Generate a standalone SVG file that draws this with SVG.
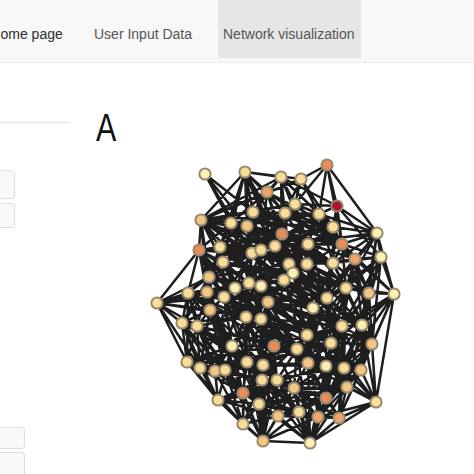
<svg xmlns="http://www.w3.org/2000/svg" width="474" height="474" viewBox="0 0 474 474">
<style>
.nav{font-family:"Liberation Sans",Arial,sans-serif;font-size:14px;fill:#555}
.box{fill:#f9f9f9;stroke:#dedede;stroke-width:1}
.e{fill:none;stroke:#050505;stroke-width:2.5;stroke-opacity:0.9;stroke-linecap:round}
circle{stroke:#96896f;stroke-width:2}
.y{fill:#f9dd98}.p{fill:#fcf0b2}.t{fill:#f5c681}.o{fill:#ec8a58}.lo{fill:#f1a468}.r{fill:#b1122f}
</style>
<rect width="474" height="474" fill="#fff"/>
<g id="navbar">
<rect x="0" y="0" width="474" height="62" fill="#f8f8f8"/>
<line x1="0" y1="62.5" x2="474" y2="62.5" stroke="#ececec"/>
<rect x="218" y="0" width="143" height="58" fill="#e6e6e6"/>
<text class="nav" x="0.5" y="38.5" style="fill:#2e2e2e">ome page</text>
<text class="nav" x="94" y="38.5">User Input Data</text>
<text class="nav" x="223" y="38.5">Network visualization</text>
</g>
<g id="sidebar">
<line x1="0" y1="122.5" x2="70" y2="122.5" stroke="#e8e8e8" stroke-width="1.5"/>
<rect class="box" x="-6" y="170.5" width="20.5" height="28" rx="2.5"/>
<rect class="box" x="-6" y="203.5" width="20.5" height="24" rx="2.5"/>
<rect class="box" x="-6" y="427.5" width="30.5" height="21" rx="2.5"/>
<rect class="box" x="-6" y="452.5" width="30.5" height="26" rx="2.5"/>
</g>
<text transform="translate(96,141) scale(0.8,1)" font-family="Liberation Sans,Arial,sans-serif" font-size="38" fill="#111">A</text>
<g id="edges">
<path class="e" d="M205 174L231 223M205 174L253 212M205 174L247 226M205 174L252 253
M245 172L201 220M245 172L231 223M245 172L247 226M245 172L253 212M245 172L267 192M245 172L281 177M245 172L220 247M245 172L252 253M245 172L261 250M245 172L275 246M245 172L285 213M245 172L223 262M245 172L301 179M245 172L282 234M245 172L289 264
M327 165L301 179M327 165L337 206M327 165L377 233M327 165L319 214M327 165L295 204M327 165L342 244
M281 177L267 192M281 177L337 206M281 177L295 204M281 177L285 213M281 177L253 212M281 177L201 220M281 177L308 244M281 177L282 234M281 177L319 214
M301 179L295 204M301 179L319 214M301 179L333 227M301 179L201 220M301 179L285 213
M267 192L253 212M267 192L231 223M267 192L285 213M267 192L201 220M267 192L247 226M267 192L282 234M267 192L199 250M267 192L308 244
M337 206L377 233M337 206L333 227M337 206L342 244M337 206L319 214M337 206L381 257M337 206L295 204M337 206L333 263
M295 204L253 212M295 204L319 214M295 204L285 213M295 204L201 220M295 204L308 244M295 204L252 253
M253 212L201 220M253 212L319 214M253 212L247 226M253 212L282 234M253 212L220 247M253 212L308 244
M285 213L319 214M285 213L247 226M285 213L333 227M285 213L275 246M285 213L261 250
M319 214L333 227M319 214L342 244M319 214L308 244M319 214L377 233M319 214L201 220M319 214L231 223
M201 220L199 250M201 220L220 247M201 220L231 223M201 220L308 244M201 220L209 277M201 220L223 262M201 220L307 264
M231 223L247 226M231 223L220 247M231 223L282 234M231 223L252 253M231 223L223 262M231 223L275 246
M247 226L282 234M247 226L252 253M247 226L261 250M247 226L308 244M247 226L289 264M247 226L209 277M247 226L293 273
M333 227L342 244M333 227L377 233M333 227L282 234M333 227L308 244M333 227L333 263
M377 233L342 244M377 233L381 257M377 233L355 259M377 233L394 294M377 233L333 263M377 233L346 288M377 233L369 293
M282 234L252 253M282 234L261 250M282 234L275 246M282 234L308 244M282 234L289 264M282 234L307 264M282 234L284 280M282 234L342 244
M199 250L220 247M199 250L223 262M199 250L209 277M199 250L188 293M199 250L207 292M199 250L157 303M199 250L252 253M199 250L308 244M199 250L275 246
M220 247L252 253M220 247L223 262M220 247L209 277M220 247L308 244M220 247L289 264
M252 253L261 250M252 253L223 262M252 253L209 277M252 253L249 283M252 253L289 264M252 253L284 280
M261 250L275 246M261 250L289 264M261 250L293 273M261 250L261 286M261 250L284 280
M275 246L308 244M275 246L289 264M275 246L307 264M275 246L284 280M275 246L313 308M275 246L333 263
M308 244L342 244M308 244L307 264M308 244L333 263M308 244L293 273M308 244L327 298
M342 244L381 257M342 244L333 263M342 244L355 259M342 244L307 264M342 244L346 288M342 244L369 293
M381 257L355 259M381 257L394 294M381 257L369 293M381 257L346 288M381 257L362 325
M223 262L209 277M223 262L207 292M223 262L224 297M223 262L235 288M223 262L249 283M223 262L293 273
M289 264L307 264M289 264L293 273M289 264L284 280M289 264L261 286M289 264L327 298M289 264L313 308
M307 264L333 263M307 264L293 273M307 264L313 308M307 264L327 298M307 264L346 288
M333 263L355 259M333 263L327 298M333 263L346 288M333 263L369 293
M355 259L346 288M355 259L369 293M355 259L394 294M355 259L362 325M355 259L342 326
M293 273L284 280M293 273L249 283M293 273L268 302M293 273L313 308M293 273L307 335
M209 277L188 293M209 277L207 292M209 277L224 297M209 277L235 288M209 277L157 303M209 277L182 323M209 277L268 302
M284 280L249 283M284 280L261 286M284 280L268 302M284 280L246 317M284 280L261 319M284 280L327 298
M188 293L207 292M188 293L157 303M188 293L182 323M188 293L197 326M188 293L210 310M188 293L187 362M188 293L249 283
M207 292L224 297M207 292L210 310M207 292L182 323M207 292L197 326M207 292L235 288M207 292L246 317
M224 297L235 288M224 297L210 310M224 297L246 317M224 297L232 346
M235 288L249 283M235 288L261 286M235 288L246 317M235 288L261 319
M249 283L261 286M249 283L268 302M249 283L246 317M249 283L261 319M249 283L274 346
M261 286L268 302M261 286L261 319M261 286L307 335M261 286L274 346
M268 302L313 308M268 302L246 317M268 302L261 319M268 302L274 346M268 302L297 349M268 302L307 335M268 302L342 326
M313 308L327 298M313 308L307 335M313 308L342 326M313 308L297 349M313 308L331 343
M327 298L346 288M327 298L342 326M327 298L331 343M327 298L307 335
M346 288L369 293M346 288L342 326M346 288L362 325M346 288L372 344
M369 293L394 294M369 293L362 325M369 293L372 344M369 293L342 326
M394 294L362 325M394 294L372 344M394 294L376 402M394 294L361 370
M157 303L182 323M157 303L187 362M157 303L197 326M157 303L210 310M157 303L224 297M157 303L235 288
M210 310L182 323M210 310L197 326M210 310L232 346M210 310L246 317M210 310L200 368
M246 317L261 319M246 317L232 346M246 317L274 346M246 317L247 362
M261 319L307 335M261 319L274 346M261 319L247 362M261 319L263 365M261 319L331 343
M182 323L197 326M182 323L187 362M182 323L200 368M182 323L215 371M182 323L232 346
M197 326L232 346M197 326L187 362M197 326L200 368M197 326L225 370M197 326L215 371
M342 326L362 325M342 326L331 343M342 326L372 344M342 326L308 363M342 326L326 366M342 326L344 368
M362 325L372 344M362 325L344 368M362 325L361 370
M307 335L274 346M307 335L297 349M307 335L308 363M307 335L331 343
M232 346L274 346M232 346L225 370M232 346L247 362M232 346L243 393M232 346L215 371M232 346L294 388
M274 346L297 349M274 346L247 362M274 346L263 365M274 346L262 380M274 346L277 380
M297 349L331 343M297 349L308 363M297 349L277 380M297 349L294 388
M331 343L372 344M331 343L308 363M331 343L326 366M331 343L344 368
M372 344L361 370M372 344L347 387M372 344L376 402M372 344L344 368
M187 362L200 368M187 362L215 371M187 362L218 400M187 362L243 393M187 362L247 362
M200 368L215 371M200 368L225 370M200 368L218 400M200 368L243 393M200 368L263 365
M215 371L225 370M215 371L218 400M215 371L243 393M215 371L243 424
M225 370L247 362M225 370L243 393M225 370L262 380
M247 362L263 365M247 362L262 380M247 362L243 393M247 362L259 404M247 362L326 366
M263 365L262 380M263 365L277 380M263 365L294 388M263 365L259 404
M308 363L326 366M308 363L294 388M308 363L326 398M308 363L277 380
M326 366L344 368M326 366L294 388M326 366L326 398M326 366L347 387
M344 368L361 370M344 368L347 387M344 368L326 398M344 368L339 418
M361 370L347 387M361 370L376 402M361 370L339 418
M262 380L277 380M262 380L243 393M262 380L259 404M262 380L278 416
M277 380L294 388M277 380L278 416M277 380L299 412
M294 388L326 398M294 388L299 412M294 388L278 416M294 388L318 417
M347 387L326 398M347 387L376 402M347 387L339 418M347 387L318 417
M243 393L218 400M243 393L259 404M243 393L243 424M243 393L263 441
M326 398L299 412M326 398L318 417M326 398L339 418M326 398L310 443
M218 400L243 424M218 400L263 441
M259 404L278 416M259 404L243 424M259 404L263 441
M376 402L339 418M376 402L318 417M376 402L310 443
M278 416L299 412M278 416L243 424M278 416L263 441M278 416L310 443
M299 412L318 417M299 412L263 441M299 412L310 443
M318 417L339 418M318 417L310 443M318 417L263 441
M339 418L310 443M243 424L263 441
M263 441L310 443M263 441L247 362M263 441L262 380M263 441L274 346M263 441L246 317M263 441L268 302M263 441L263 365M263 441L277 380
M310 443L308 363M310 443L297 349M310 443L326 366M310 443L347 387M310 443L331 343M310 443L294 388
M220 247L313 308M209 277L313 308M235 288L331 343M224 297L307 335M252 253L342 326M261 250L346 288M231 223L333 263M201 220L289 264M199 250L261 319M188 293L274 346M197 326L297 349M215 371L308 363M225 370L331 343M247 362L344 368M243 393L326 366M259 404L326 398M218 400L294 388M262 380L347 387M274 346L344 368M246 317L342 326M261 286L342 326M249 283L327 298M235 288L307 264M223 262L282 234M220 247L342 244M252 253L333 227M261 250L319 214M275 246L377 233M307 264L381 257M293 273L369 293M284 280L362 325M268 302L372 344M261 319L361 370M274 346L376 402M297 349L339 418M307 335L318 417M313 308L326 398M327 298L344 368M346 288L326 366M333 263L308 363M289 264L263 365M284 280L232 346M249 283L215 371M235 288L200 368M209 277L225 370M207 292L243 393M224 297L262 380M246 317L243 424M261 319L259 404M268 302L278 416
M201 220L261 286M201 220L252 253M201 220L284 280M231 223L307 264M231 223L261 286M231 223L293 273M247 226L333 263M247 226L307 264M253 212L289 264M253 212L333 227M267 192L289 264M267 192L333 227M285 213L342 244M285 213L252 253M285 213L223 262M295 204L275 246M295 204L342 244M319 214L289 264M319 214L355 259M308 244L261 286M308 244L249 283M308 244L355 259M333 227L307 264M333 227L289 264M282 234L220 247M282 234L333 263M275 246L223 262M275 246L249 283M261 250L307 264M261 250L209 277M252 253L307 264M252 253L224 297M220 247L261 286M220 247L235 288M199 250L235 288M199 250L224 297M223 262L268 302M223 262L261 319M209 277L249 283M209 277L246 317M188 293L224 297M188 293L235 288M207 292L261 286M207 292L268 302M224 297L261 319M224 297L274 346M235 288L284 280M235 288L297 349M249 283L307 335M249 283L289 264M261 286L313 308M261 286L327 298M268 302L327 298M268 302L331 343M284 280L307 335M284 280L342 326M293 273L327 298M293 273L342 326M289 264L346 288M289 264L333 263M307 264L369 293M307 264L342 326M333 263L313 308M333 263L362 325M355 259L327 298M355 259L331 343M342 244L313 308M342 244L394 294M346 288L307 335M346 288L313 308M327 298L362 325M327 298L372 344M313 308L362 325M313 308L308 363M307 335L342 326M307 335L326 366M297 349L342 326M297 349L326 366M274 346L307 335M274 346L331 343M261 319L297 349M261 319L232 346M246 317L297 349M246 317L225 370M210 310L247 362M210 310L261 319M197 326L246 317M197 326L247 362M182 323L225 370M182 323L246 317M187 362L225 370M187 362L232 346M200 368L247 362M200 368L232 346M215 371L262 380M215 371L259 404M225 370L263 365M225 370L259 404M247 362L277 380M247 362L294 388M263 365L308 363M263 365L326 366M262 380L294 388M262 380L299 412M277 380L308 363M277 380L326 398M294 388L344 368M294 388L339 418M308 363L344 368M308 363L347 387M326 366L361 370M326 366L318 417M344 368L376 402M344 368L318 417M331 343L361 370M331 343L326 398M342 326L347 387M342 326L361 370M362 325L347 387M362 325L326 366M372 344L326 398M372 344L339 418M243 393L278 416M243 393L277 380M259 404L299 412M259 404L294 388M278 416L318 417M278 416L326 398M299 412L339 418M299 412L326 366M218 400L259 404M218 400L262 380M243 424L278 416M243 424L277 380M263 441L299 412M263 441L294 388M310 443L339 418M310 443L344 368M310 443L308 363M263 441L225 370M263 441L259 404M310 443L277 380M232 346L263 365M232 346L262 380M274 346L294 388M274 346L308 363M297 349L263 365M297 349L344 368M307 335L262 380M313 308L274 346M313 308L297 349M327 298L297 349M346 288L331 343M346 288L344 368M369 293L331 343M369 293L346 288M394 294L346 288M394 294L342 326M381 257L333 263M381 257L342 326M377 233L333 263
M201 220L235 288M231 223L249 283M247 226L284 280M253 212L261 286M267 192L261 250M285 213L289 264M295 204L307 264M319 214L333 263M308 244L346 288M282 234L327 298M275 246L268 302M261 250L249 283M252 253L235 288M220 247L207 292M223 262L188 293M209 277L210 310M207 292L261 319M224 297L268 302M235 288L274 346M249 283L297 349M261 286L331 343M268 302L307 335M284 280L313 308M293 273L346 288M289 264L342 326M307 264L362 325M333 263L372 344M355 259L372 344M346 288L308 363M327 298L326 366M313 308L344 368M307 335L344 368M297 349L361 370M274 346L326 366M261 319L308 363M246 317L263 365M210 310L263 365M197 326L243 393M182 323L218 400M187 362L262 380M200 368L277 380M215 371L277 380M225 370L294 388M247 362L299 412M263 365L318 417M262 380L326 398M277 380L339 418M294 388L347 387M308 363L339 418M326 366L376 402M331 343L347 387M342 326L326 398M362 325L326 398M372 344L318 417M243 393L299 412M259 404L318 417M278 416L339 418M243 424L299 412M218 400L278 416M263 441L318 417M310 443L262 380M310 443L259 404M263 441L308 363M232 346L277 380M232 346L259 404M210 310L243 393M182 323L243 393M246 317L277 380M261 319L277 380M268 302L308 363M284 280L308 363M289 264L331 343M275 246L327 298M261 250L313 308M252 253L313 308M223 262L284 280M209 277L289 264M199 250L249 283M188 293L246 317M157 303L246 317M157 303L207 292M201 220L333 227M231 223L308 244M253 212L342 244M267 192L342 244M285 213L355 259M247 226L342 244M220 247L333 263M199 250L333 263M223 262L346 288M209 277L327 298M235 288L342 326M224 297L331 343M207 292L297 349M188 293L297 349M197 326L274 346M187 362L274 346M200 368L297 349M225 370L342 326M247 362L342 326M262 380L344 368M243 393L347 387M259 404L347 387M278 416L347 387M299 412L347 387
M157 303L232 346M157 303L200 368M182 323L247 362M187 362L243 424M197 326L262 380M210 310L225 370M188 293L232 346M207 292L232 346M224 297L247 362M188 293L215 371M199 250L210 310M201 220L207 292M199 250L246 317M220 247L246 317M218 400L232 346M243 424L225 370M243 424L262 380M394 294L344 368M394 294L331 343M381 257L372 344M381 257L327 298M377 233L362 325M377 233L327 298M376 402L331 343M376 402L362 325M376 402L326 366M369 293L361 370M369 293L344 368M355 259L372 344M355 259L313 308M372 344L326 366M361 370L326 398M342 326L339 418M362 325L318 417"/>
</g>
<g id="nodes">
<g id="n1"><circle class="p" cx="205" cy="174" r="5.6"/></g>
<g id="n2"><circle class="y" cx="245" cy="172" r="5.6"/></g>
<g id="n3"><circle class="o" cx="327" cy="165" r="5.6"/></g>
<g id="n4"><circle class="y" cx="281" cy="177" r="5.6"/></g>
<g id="n5"><circle class="y" cx="301" cy="179" r="5.6"/></g>
<g id="n6"><circle class="lo" cx="267" cy="192" r="5.6"/></g>
<g id="n7"><circle class="r" cx="337" cy="206" r="5.6"/></g>
<g id="n8"><circle class="y" cx="295" cy="204" r="5.6"/></g>
<g id="n9"><circle class="y" cx="253" cy="212" r="5.6"/></g>
<g id="n10"><circle class="y" cx="285" cy="213" r="5.6"/></g>
<g id="n11"><circle class="y" cx="319" cy="214" r="5.6"/></g>
<g id="n12"><circle class="t" cx="201" cy="220" r="5.6"/></g>
<g id="n13"><circle class="y" cx="231" cy="223" r="5.6"/></g>
<g id="n14"><circle class="t" cx="247" cy="226" r="5.6"/></g>
<g id="n15"><circle class="y" cx="333" cy="227" r="5.6"/></g>
<g id="n16"><circle class="p" cx="377" cy="233" r="5.6"/></g>
<g id="n17"><circle class="o" cx="282" cy="234" r="5.6"/></g>
<g id="n18"><circle class="o" cx="199" cy="250" r="5.6"/></g>
<g id="n19"><circle class="y" cx="220" cy="247" r="5.6"/></g>
<g id="n20"><circle class="y" cx="252" cy="253" r="5.6"/></g>
<g id="n21"><circle class="y" cx="261" cy="250" r="5.6"/></g>
<g id="n22"><circle class="y" cx="275" cy="246" r="5.6"/></g>
<g id="n23"><circle class="y" cx="308" cy="244" r="5.6"/></g>
<g id="n24"><circle class="o" cx="342" cy="244" r="5.6"/></g>
<g id="n25"><circle class="p" cx="381" cy="257" r="5.6"/></g>
<g id="n26"><circle class="y" cx="223" cy="262" r="5.6"/></g>
<g id="n27"><circle class="y" cx="289" cy="264" r="5.6"/></g>
<g id="n28"><circle class="y" cx="307" cy="264" r="5.6"/></g>
<g id="n29"><circle class="y" cx="333" cy="263" r="5.6"/></g>
<g id="n30"><circle class="lo" cx="355" cy="259" r="5.6"/></g>
<g id="n31"><circle class="p" cx="293" cy="273" r="5.6"/></g>
<g id="n32"><circle class="t" cx="209" cy="277" r="5.6"/></g>
<g id="n33"><circle class="y" cx="284" cy="280" r="5.6"/></g>
<g id="n34"><circle class="y" cx="188" cy="293" r="5.6"/></g>
<g id="n35"><circle class="t" cx="207" cy="292" r="5.6"/></g>
<g id="n36"><circle class="y" cx="224" cy="297" r="5.6"/></g>
<g id="n37"><circle class="p" cx="235" cy="288" r="5.6"/></g>
<g id="n38"><circle class="y" cx="249" cy="283" r="5.6"/></g>
<g id="n39"><circle class="p" cx="261" cy="286" r="5.6"/></g>
<g id="n40"><circle class="t" cx="268" cy="302" r="5.6"/></g>
<g id="n41"><circle class="p" cx="313" cy="308" r="5.6"/></g>
<g id="n42"><circle class="y" cx="327" cy="298" r="5.6"/></g>
<g id="n43"><circle class="y" cx="346" cy="288" r="5.6"/></g>
<g id="n44"><circle class="t" cx="369" cy="293" r="5.6"/></g>
<g id="n45"><circle class="p" cx="394" cy="294" r="5.6"/></g>
<g id="n46"><circle class="y" cx="157" cy="303" r="5.6"/></g>
<g id="n47"><circle class="t" cx="210" cy="310" r="5.6"/></g>
<g id="n48"><circle class="y" cx="246" cy="317" r="5.6"/></g>
<g id="n49"><circle class="y" cx="261" cy="319" r="5.6"/></g>
<g id="n50"><circle class="y" cx="182" cy="323" r="5.6"/></g>
<g id="n51"><circle class="y" cx="197" cy="326" r="5.6"/></g>
<g id="n52"><circle class="y" cx="342" cy="326" r="5.6"/></g>
<g id="n53"><circle class="p" cx="362" cy="325" r="5.6"/></g>
<g id="n54"><circle class="y" cx="307" cy="335" r="5.6"/></g>
<g id="n55"><circle class="p" cx="232" cy="346" r="5.6"/></g>
<g id="n56"><circle class="o" cx="274" cy="346" r="5.6"/></g>
<g id="n57"><circle class="y" cx="297" cy="349" r="5.6"/></g>
<g id="n58"><circle class="y" cx="331" cy="343" r="5.6"/></g>
<g id="n59"><circle class="t" cx="372" cy="344" r="5.6"/></g>
<g id="n60"><circle class="y" cx="187" cy="362" r="5.6"/></g>
<g id="n61"><circle class="y" cx="200" cy="368" r="5.6"/></g>
<g id="n62"><circle class="t" cx="215" cy="371" r="5.6"/></g>
<g id="n63"><circle class="y" cx="225" cy="370" r="5.6"/></g>
<g id="n64"><circle class="y" cx="247" cy="362" r="5.6"/></g>
<g id="n65"><circle class="y" cx="263" cy="365" r="5.6"/></g>
<g id="n66"><circle class="t" cx="308" cy="363" r="5.6"/></g>
<g id="n67"><circle class="p" cx="326" cy="366" r="5.6"/></g>
<g id="n68"><circle class="y" cx="344" cy="368" r="5.6"/></g>
<g id="n69"><circle class="t" cx="361" cy="370" r="5.6"/></g>
<g id="n70"><circle class="y" cx="262" cy="380" r="5.6"/></g>
<g id="n71"><circle class="y" cx="277" cy="380" r="5.6"/></g>
<g id="n72"><circle class="t" cx="294" cy="388" r="5.6"/></g>
<g id="n73"><circle class="t" cx="347" cy="387" r="5.6"/></g>
<g id="n74"><circle class="o" cx="243" cy="393" r="5.6"/></g>
<g id="n75"><circle class="o" cx="326" cy="398" r="5.6"/></g>
<g id="n76"><circle class="y" cx="218" cy="400" r="5.6"/></g>
<g id="n77"><circle class="y" cx="259" cy="404" r="5.6"/></g>
<g id="n78"><circle class="y" cx="376" cy="402" r="5.6"/></g>
<g id="n79"><circle class="t" cx="278" cy="416" r="5.6"/></g>
<g id="n80"><circle class="y" cx="299" cy="412" r="5.6"/></g>
<g id="n81"><circle class="lo" cx="318" cy="417" r="5.6"/></g>
<g id="n82"><circle class="lo" cx="339" cy="418" r="5.6"/></g>
<g id="n83"><circle class="y" cx="243" cy="424" r="5.6"/></g>
<g id="n84"><circle class="t" cx="263" cy="441" r="5.6"/></g>
<g id="n85"><circle class="p" cx="310" cy="443" r="5.6"/></g>
</g>
</svg>
